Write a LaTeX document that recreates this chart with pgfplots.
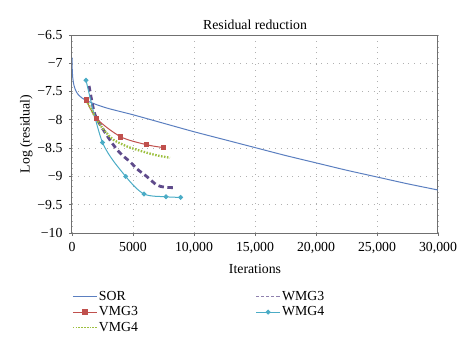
\documentclass[border=0pt]{standalone}
\usepackage{fontspec}
\setmainfont{Liberation Serif}
\usepackage{pgfplots}
\pgfplotsset{compat=1.18}
\definecolor{sorc}{HTML}{5B7FC0}
\definecolor{vmgthree}{HTML}{C0504D}
\definecolor{vmgfour}{HTML}{9DC040}
\definecolor{wmgthree}{HTML}{5F4B8B}
\definecolor{wmgfour}{HTML}{4BACC6}
\definecolor{gridc}{HTML}{B0B0B0}
\definecolor{axc}{HTML}{707070}
\newcommand{\chartfont}{\fontsize{13.8}{16}\selectfont}
\begin{document}
\begin{tikzpicture}
\useasboundingbox (-72pt,-120pt) rectangle (402pt,233pt);
\begin{axis}[
  scale only axis, width=366pt, height=198pt,
  at={(0pt,0pt)}, anchor=south west,
  xmin=0, xmax=30000, ymin=-10, ymax=-6.5,
  scaled x ticks=false,
  xtick={0,5000,10000,15000,20000,25000,30000},
  xticklabels={0,5000,{10,000},{15,000},{20,000},{25,000},{30,000}},
  ytick={-10,-9.5,-9,-8.5,-8,-7.5,-7,-6.5},
  yticklabels={−10,−9.5,−9,−8.5,−8,−7.5,−7,−6.5},
  xtick pos=bottom, ytick pos=left,
  tick align=outside, major tick length=3pt,
  tick style={axc, line width=0.8pt},
  axis line style={axc, line width=1pt},
  grid=major,
  major grid style={gridc, line width=0.8pt, dash pattern=on 0.8pt off 5pt},
  tick label style={font=\chartfont},
  every tick label/.append style={font=\chartfont},
  xticklabel style={yshift=-3pt},
  yticklabel style={xshift=-3pt},
  title={Residual reduction},
  title style={font=\chartfont, yshift=-4pt},
  xlabel={Iterations},
  ylabel={Log (residual)},
  label style={font=\chartfont},
  xlabel style={yshift=-4pt},
  ylabel style={yshift=-2pt},
  legend columns=2,
  legend cell align=left,
  legend style={at={(0,-0.285)}, anchor=north west, draw=none, fill=none,
    font=\chartfont, inner sep=0pt,
    nodes={inner sep=1.5pt},
    /tikz/row sep=2pt,
    /tikz/column 2/.style={column sep=116pt}},
  legend image code/.code={\draw[mark repeat=2,mark phase=2,#1] plot coordinates {(0pt,0pt) (12pt,0pt) (24pt,0pt)};},
]
\addplot[sorc, line width=1pt, smooth, tension=0.4] coordinates {
(0,-6.9) (20,-7.1) (60,-7.25) (150,-7.38) (300,-7.48) (500,-7.55) (800,-7.61)
(1200,-7.66) (2000,-7.73) (3000,-7.8) (5000,-7.91) (7500,-8.06) (10000,-8.21)
(12500,-8.35) (15000,-8.49) (17500,-8.63) (20000,-8.76) (22500,-8.89)
(25000,-9.01) (27500,-9.13) (30000,-9.24)};
\addlegendentry{SOR}
\addplot[wmgthree, line width=2.8pt, dash pattern=on 5.5pt off 3.5pt, smooth,
  legend image post style={line width=0.8pt, dash pattern=on 3pt off 2pt, wmgthree!70}] coordinates {
(1400,-7.40) (1800,-7.85) (2160,-8.03) (2700,-8.22) (3385,-8.44) (4000,-8.6) (4750,-8.74)
(5400,-8.88) (6120,-9.0) (6940,-9.15) (7600,-9.19) (8500,-9.20)};
\addlegendentry{WMG3}
\addplot[vmgthree, line width=1pt, mark=square*, mark size=2.2pt, smooth] coordinates {
(1180,-7.65) (2030,-7.98) (4000,-8.30) (6130,-8.44) (7500,-8.49)};
\addlegendentry{VMG3}
\addplot[wmgfour, line width=1pt, mark=*, mark size=1.9pt, smooth] coordinates {
(1150,-7.30) (2500,-8.40) (4400,-9.00) (5900,-9.31) (7700,-9.36) (8900,-9.37)};
\addlegendentry{WMG4}
\addplot[vmgfour, line width=2.3pt, dash pattern=on 1.5pt off 1.5pt, smooth,
  legend image post style={line width=1.3pt, dash pattern=on 1.3pt off 1.5pt}] coordinates {
(1180,-7.65) (2030,-8.0) (2700,-8.2) (3385,-8.35) (4000,-8.42) (4750,-8.49)
(6120,-8.58) (7000,-8.63) (8030,-8.67)};
\addlegendentry{VMG4}
\end{axis}
\end{tikzpicture}
\end{document}
